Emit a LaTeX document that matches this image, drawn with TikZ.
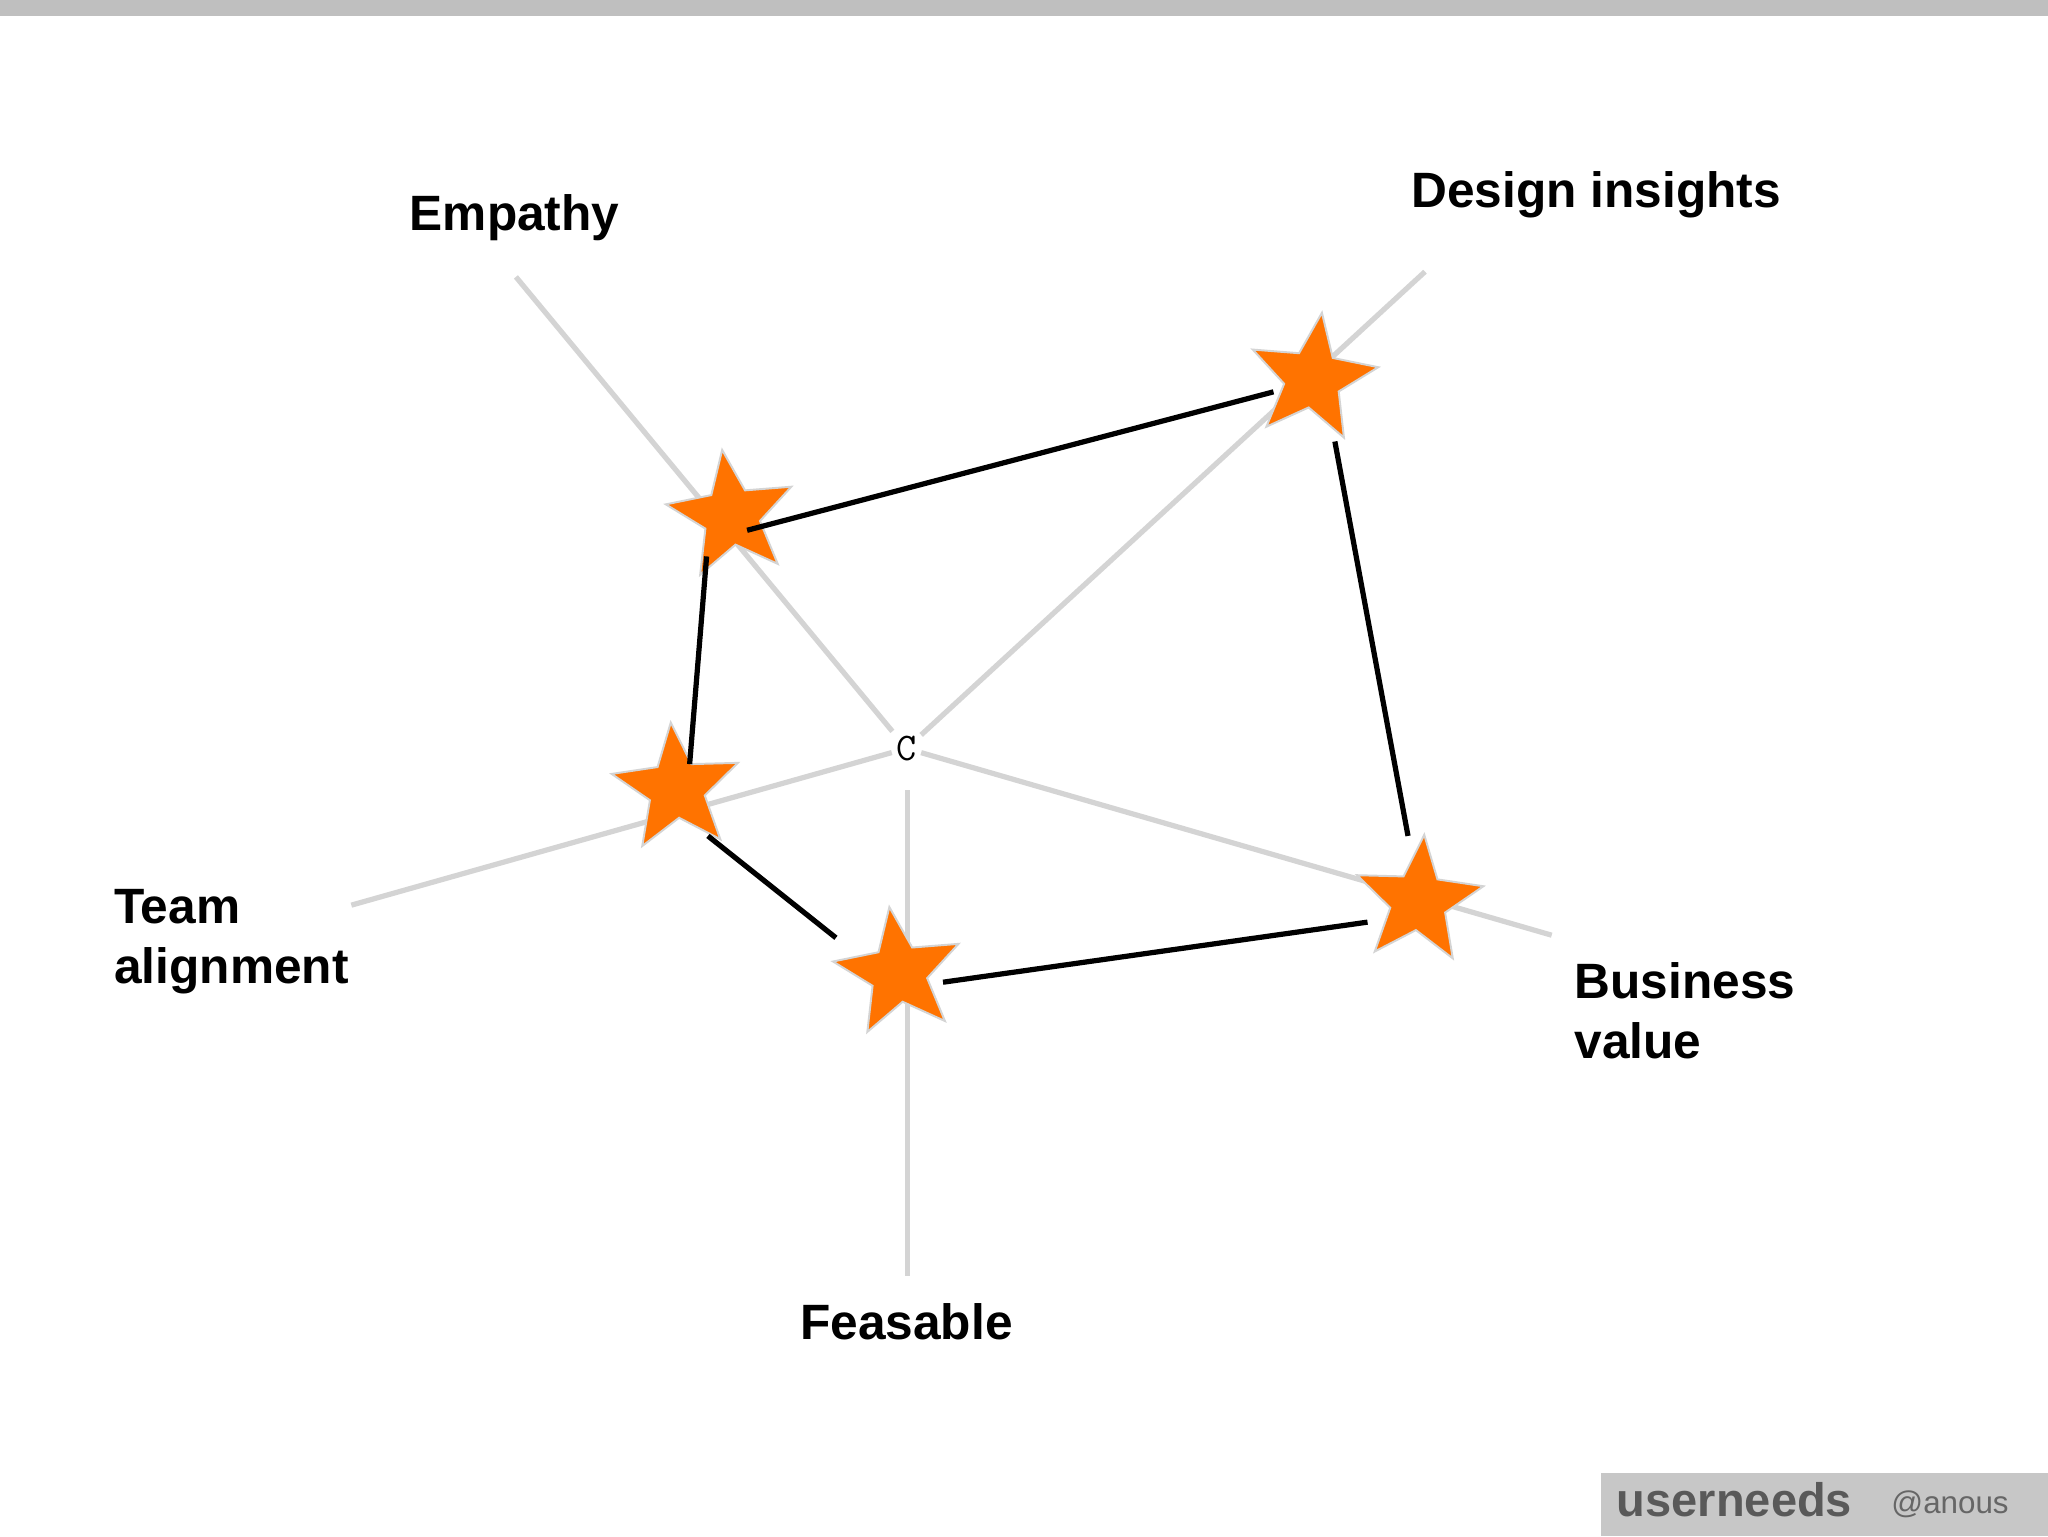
\documentclass[tikz,border=0pt]{standalone}
\usepackage{fontspec}
\setmainfont{Liberation Sans}
\usetikzlibrary{shapes.geometric}
\definecolor{axisgray}{HTML}{D4D4D4}
\definecolor{starorange}{HTML}{FF7300}
\begin{document}
\begin{tikzpicture}[x=1pt,y=-1pt,
  axis/.style={draw=axisgray,line width=4pt},
  link/.style={draw=black,line width=4pt},
  starnode/.style={star,star points=5,star point ratio=2.3,minimum size=102pt,fill=starorange,draw=axisgray,line width=1.5pt,inner sep=0pt},
  lbl/.style={font=\fontsize{38}{46}\selectfont\bfseries,align=left}]
\useasboundingbox (0,0) rectangle (1568,1176);
\fill[white] (0,0) rectangle (1568,1176);
\fill[black!25] (0,0) rectangle (1568,12);
\node[font=\fontsize{30}{30}\selectfont\ttfamily] (c) at (694,573) {C};
\coordinate (eE) at (395,212);
\coordinate (eD) at (1091,208);
\coordinate (eT) at (269,693);
\coordinate (eB) at (1188,716);
\coordinate (eF) at (695,977);
\coordinate (sF) at (695,605);
\draw[axis] (c) -- (eE);
\draw[axis] (c) -- (eD);
\draw[axis] (c) -- (eT);
\draw[axis] (c) -- (eB);
\draw[axis] (sF) -- (eF);
\coordinate (a1) at (572,406); \coordinate (a2) at (975,300);
\coordinate (b1) at (1022,338); \coordinate (b2) at (1078,640);
\coordinate (c1) at (1047,706); \coordinate (c2) at (722,752);
\coordinate (d1) at (640,718); \coordinate (d2) at (542,640);
\coordinate (e1) at (528,585); \coordinate (e2) at (541,426);
\node[starnode,rotate=8] (sE) at (560,395) {};
\node[starnode,rotate=-8] (sD) at (1005,290) {};
\node[starnode,rotate=5] (sT) at (518,604) {};
\node[starnode,rotate=8] (sFe) at (688,745) {};
\node[starnode,rotate=-5] (sB) at (1086,690) {};
\draw[link] (a1) -- (a2);
\draw[link] (b1) -- (b2);
\draw[link] (c1) -- (c2);
\draw[link] (d1) -- (d2);
\draw[link] (e1) -- (e2);
\node[lbl] (lE) at (394,167) {Empathy};
\node[lbl] (lD) at (1222,149) {Design insights};
\node[lbl,anchor=west] (lT) at (84,721) {Team\\alignment};
\node[lbl,anchor=west] (lB) at (1202,774) {Business\\value};
\node[lbl] (lF) at (694,1012) {Feasable};
\fill[black!22] (1226,1128) rectangle (1568,1176);
\node[font=\fontsize{36}{36}\selectfont\bfseries,text=black!65] (un) at (1328,1148) {userneeds};
\node[font=\fontsize{24}{24}\selectfont,text=black!60] (an) at (1493,1152) {@anous};
\end{tikzpicture}
\end{document}
